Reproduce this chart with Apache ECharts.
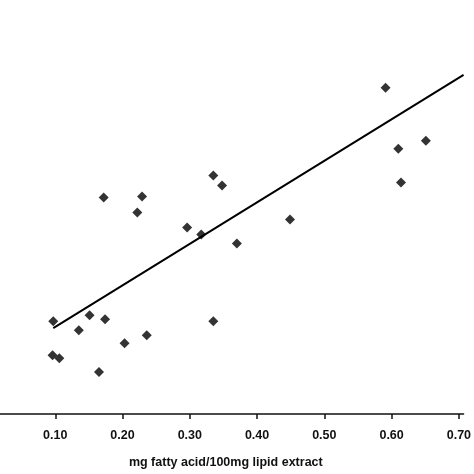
<!DOCTYPE html>
<html>
<head>
<meta charset="utf-8">
<script src="https://cdn.jsdelivr.net/npm/echarts@6/dist/echarts.min.js"></script>
<style>html,body{margin:0;padding:0;background:#fff;overflow:hidden}#main{width:489px;height:474px;margin-left:-15px}</style>
</head>
<body>
<div id="main"></div>
<script>
// x values (mg fatty acid / 100mg lipid extract)
const xVals = [0.097, 0.096, 0.106, 0.135, 0.151, 0.165, 0.172, 0.174, 0.203, 0.222, 0.229, 0.236,
  0.296, 0.317, 0.335, 0.335, 0.348, 0.370, 0.449, 0.591, 0.610, 0.614, 0.651];
// y values (y axis not shown in the crop, relative units)
const yVals = [93, 59, 56, 84, 99, 42, 217, 95, 71, 202, 218, 79,
  187, 180, 239, 93, 229, 171, 195, 327, 266, 232, 274];
// regression line ends
const fitX = [0.097, 0.707];
const fitY = [86, 340];

const chart = echarts.init(document.getElementById('main'));
chart.setOption({
  animation: false,
  grid: { left: 0, right: 0, top: 0, bottom: 59 },
  xAxis: {
    type: 'value', min: 0, max: 0.707, interval: 0.1,
    name: 'mg fatty acid/100mg lipid extract', nameLocation: 'middle', nameGap: 42,
    nameTextStyle: { fontFamily: 'Liberation Sans', fontWeight: 'bold', fontSize: 12.5, color: '#111' },
    axisLine: { lineStyle: { color: '#111', width: 1.5 } },
    axisTick: { length: 5, lineStyle: { color: '#111', width: 1.5 } },
    axisLabel: { formatter: v => v === 0 ? '' : v.toFixed(2), margin: 15, fontFamily: 'Liberation Sans', fontWeight: 'bold', fontSize: 12.5, color: '#111' },
    splitLine: { show: false }
  },
  yAxis: { type: 'value', min: 0, max: 415, show: false, splitLine: { show: false } },
  series: [
    {
      type: 'scatter', symbol: 'diamond', symbolSize: 10,
      itemStyle: { color: '#000' },
      data: xVals.map((x, i) => [x, yVals[i]])
    },
    {
      type: 'line', showSymbol: false, lineStyle: { color: '#000', width: 2 },
      data: fitX.map((x, i) => [x, fitY[i]])
    }
  ]
});
</script>
</body>
</html>
